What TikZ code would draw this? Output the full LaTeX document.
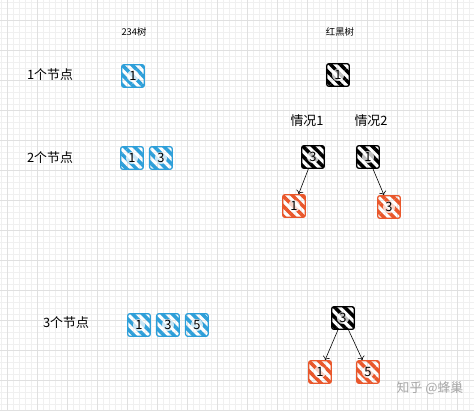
\documentclass[tikz,border=0pt]{standalone}
\usepackage{fontspec}
\setmainfont{Noto Sans CJK SC}
\usetikzlibrary{positioning, patterns.meta, arrows.meta}

\definecolor{treeblue}{HTML}{2E9FD9}
\definecolor{treered}{HTML}{E9572B}
\definecolor{gridminor}{HTML}{F0F0F0}
\definecolor{gridmajor}{HTML}{E0E0E0}

\tikzset{
  nodebox/.style={minimum size=0.68cm, inner sep=0pt, rounded corners=2pt,
    line width=1.1pt, font=\fontsize{11}{11}\selectfont,
    path picture={\fill[white, opacity=0.75]
      (path picture bounding box.center) circle (0.18cm);}},
  bluebox/.style={nodebox, draw=treeblue,
    pattern={Lines[angle=-45,distance=6pt,line width=3pt]}, pattern color=treeblue},
  blackbox/.style={nodebox, draw=black,
    pattern={Lines[angle=-45,distance=6pt,line width=3pt]}, pattern color=black},
  redbox/.style={nodebox, draw=treered,
    pattern={Lines[angle=-45,distance=6pt,line width=3pt]}, pattern color=treered},
  title/.style={font=\fontsize{8}{9}\selectfont},
  rowlabel/.style={font=\fontsize{11}{13}\selectfont},
}

\begin{document}
\begin{tikzpicture}[x=0.03cm, y=-0.03cm]
    \useasboundingbox (0,0) rectangle (474,410);
    % background grid
    \foreach \gx in {1,7,...,474} \draw[gridminor, line width=0.4pt] (\gx,0) -- (\gx,410);
    \foreach \gy in {2,8,...,410} \draw[gridminor, line width=0.4pt] (0,\gy) -- (474,\gy);
    \foreach \gx in {7,37,...,474} \draw[gridmajor, line width=0.5pt] (\gx,0) -- (\gx,410);
    \foreach \gy in {20,50,...,410} \draw[gridmajor, line width=0.5pt] (0,\gy) -- (474,\gy);

    % headings
    \node[title] (t234) at (134,32) {234树};
    \node[title] (trb) at (340,32) {红黑树};

    % 1 node
    \node[rowlabel] (l1) at (50,75) {1个节点};
    \node[bluebox] (a1) at (133,76) {1};
    \node[blackbox] (k1) at (338,75) {1};

    % 2 nodes
    \node[rowlabel] (c1) at (307,121) {情况1};
    \node[rowlabel] (c2) at (371,121) {情况2};
    \node[rowlabel] (l2) at (50,158) {2个节点};
    \node[bluebox] (b1) at (132,158) {1};
    \node[bluebox, right=0.15cm of b1] (b3) {3};
    \node[blackbox] (s3) at (313,157) {3};
    \node[blackbox] (s1) at (368,157) {1};
    \node[redbox] (r1) at (294,206) {1};
    \node[redbox] (r3) at (389,207) {3};
    \path[-{To[length=3pt]}, line width=0.5pt]
        (s3) edge (r1)
        (s1) edge (r3);

    % 3 nodes
    \node[rowlabel] (l3) at (66,323) {3个节点};
    \node[bluebox] (d1) at (139,325) {1};
    \node[bluebox, right=0.15cm of d1] (d3) {3};
    \node[bluebox, right=0.15cm of d3] (d5) {5};
    \node[blackbox] (m3) at (343,318) {3};
    \node[redbox] (n1) at (320,372) {1};
    \node[redbox] (n5) at (368,372) {5};
    \path[-{To[length=3pt]}, line width=0.5pt]
        (m3) edge (n1)
        (m3) edge (n5);

    \node[rowlabel, text=black!35] (wm) at (430,388) {知乎 @蜂巢};
\end{tikzpicture}
\end{document}
